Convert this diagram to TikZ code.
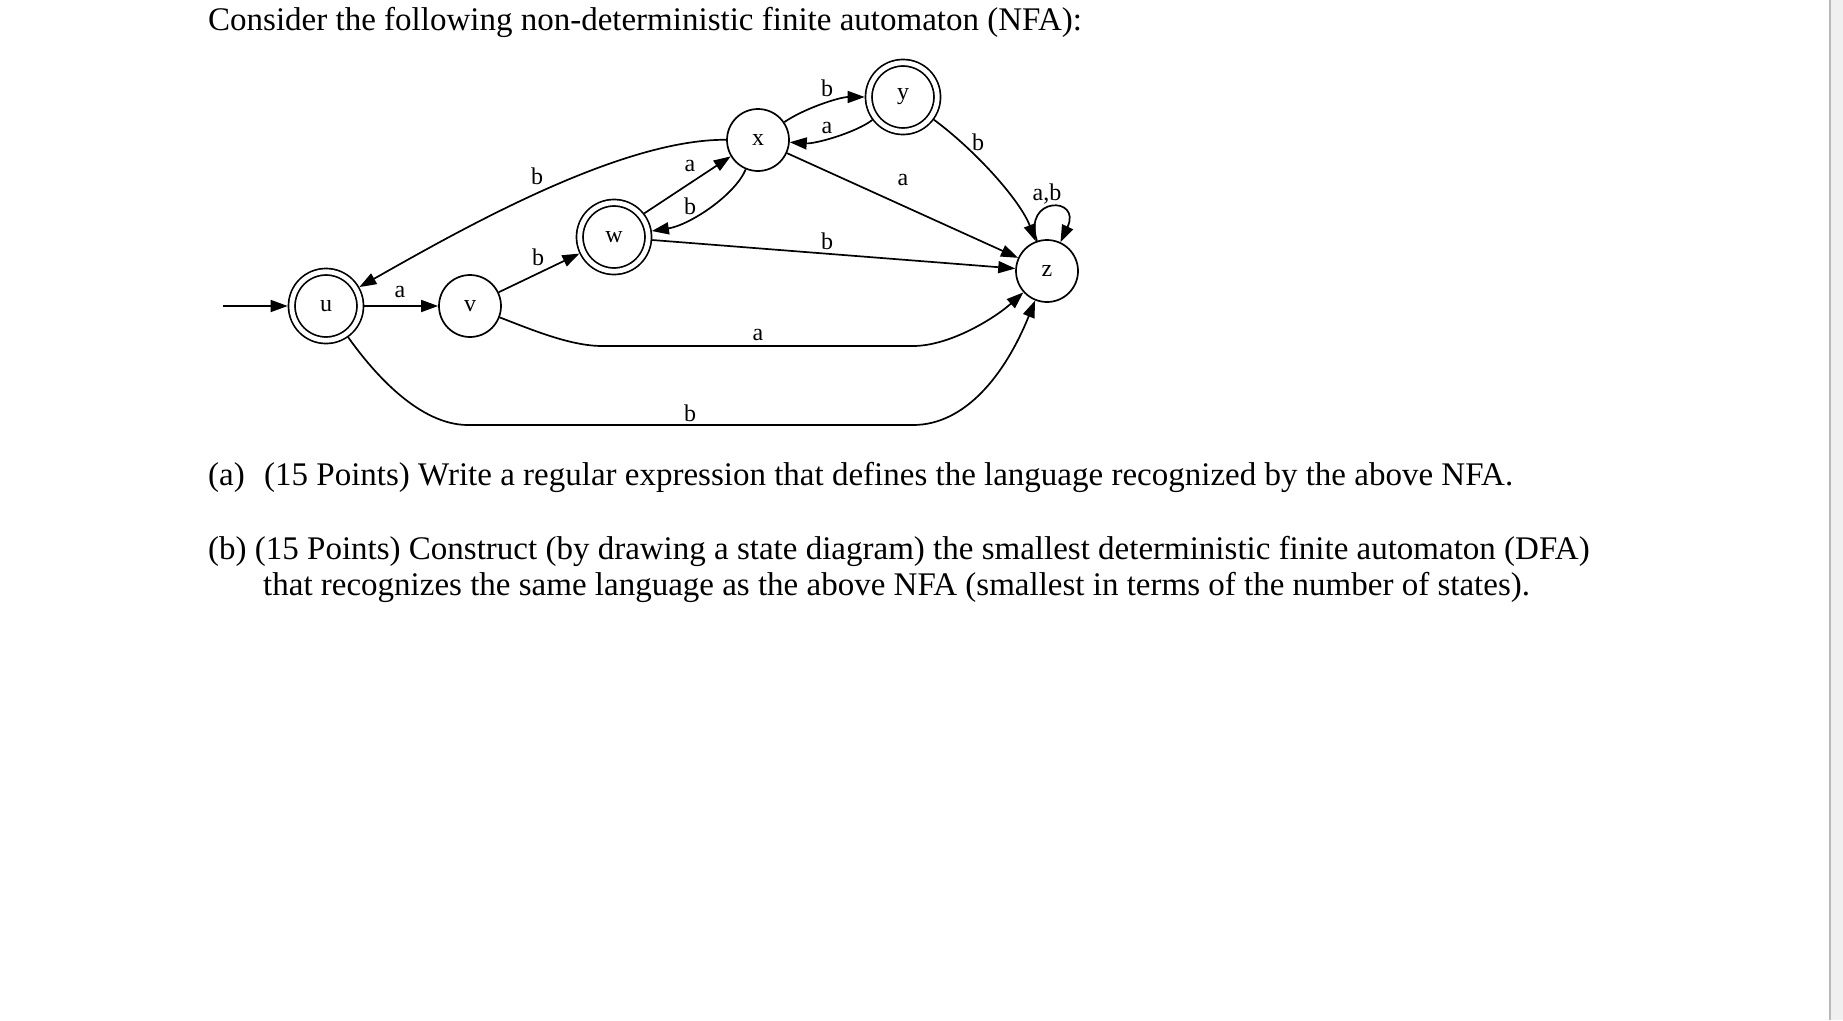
\documentclass[tikz,border=0pt]{standalone}
\usepackage{fontspec}
\setmainfont{Liberation Serif}
\usetikzlibrary{arrows.meta}
\definecolor{barc}{HTML}{B7B8BC}
\definecolor{sidec}{HTML}{F0F0F0}
\begin{document}
\begin{tikzpicture}[x=1pt,y=-1pt,
  every node/.style={inner sep=0pt},
  st/.style={circle, draw, line width=1.7pt, minimum size=62pt, outer sep=0.85pt, font=\fontsize{24}{24}\selectfont},
  acc/.style={st, double, double distance=4.8pt, minimum size=68.5pt, outer sep=4.1pt},
  trans/.style={draw, line width=1.7pt, -{Triangle[length=17pt,width=12pt]}},
  lbl/.style={font=\fontsize{24}{24}\selectfont},
  txt/.style={anchor=base west, font=\fontsize{33}{36}\selectfont}
]
\useasboundingbox (0,0) rectangle (1843,1020);
\fill[white] (0,0) rectangle (1843,1020);
\fill[sidec] (1831,0) rectangle (1843,1020);
\fill[barc] (1828.7,0) rectangle (1831,1020);

% states
\node[acc] (u) at (326,306) {u};
\node[st]  (v) at (470,306) {v};
\node[acc] (w) at (614,237) {w};
\node[st]  (x) at (758,140) {x};
\node[acc] (y) at (903,97) {y};
\node[st]  (z) at (1047,271) {z};
\coordinate (start) at (223,306);

% transitions
\draw[trans] (start) -- (u);
\draw[trans] (u) -- (v) node[lbl] at (400,292) {a};
\draw[trans] (v) -- (w) node[lbl] at (538,257) {b};
\draw[trans] (w.38) -- (x.211) node[lbl] at (690,166) {a};
\draw[trans] (x) .. controls (735,195) and (690,225) .. (w) node[lbl] at (690,206) {b};
\draw[trans] (x) .. controls (620,139) and (460,230) .. (u) node[lbl] at (537,176) {b};
\draw[trans] (x) .. controls (805,108) and (840,97) .. (y) node[lbl] at (827,88) {b};
\draw[trans] (y) .. controls (855,133) and (815,144) .. (x) node[lbl] at (827,128) {a};
\draw[trans] (y) .. controls (975,150) and (1020,200) .. (z) node[lbl] at (978,142) {b};
\draw[trans] (x) -- (z) node[lbl] at (903,180) {a};
\draw[trans] (w) -- (z) node[lbl] at (827,241) {b};
\draw[trans] (v) .. controls (530,329) and (570,346) .. (602,346) -- (913,346)
   .. controls (950,346) and (995,318) .. (z) node[lbl] at (758,335) {a};
\draw[trans] (u) .. controls (375,375) and (420,425) .. (468,425) -- (913,425)
   .. controls (965,425) and (1005,375) .. (z) node[lbl] at (690,413) {b};
\draw[trans] (z) .. controls (1022,196) and (1082,196) .. (z) node[lbl] at (1047,194) {a,b};

% text
\node[txt] (title) at (208,30) {Consider the following non-deterministic finite automaton (NFA):};
\node[txt] (qa) at (208,485) {\makebox[56pt][l]{(a)}(15 Points) Write a regular expression that defines the language recognized by the above NFA.};
\node[txt] (qb1) at (208,559) {(b) (15 Points) Construct (by drawing a state diagram) the smallest deterministic finite automaton (DFA)};
\node[txt] (qb2) at (263,595) {that recognizes the same language as the above NFA (smallest in terms of the number of states).};
\end{tikzpicture}
\end{document}
